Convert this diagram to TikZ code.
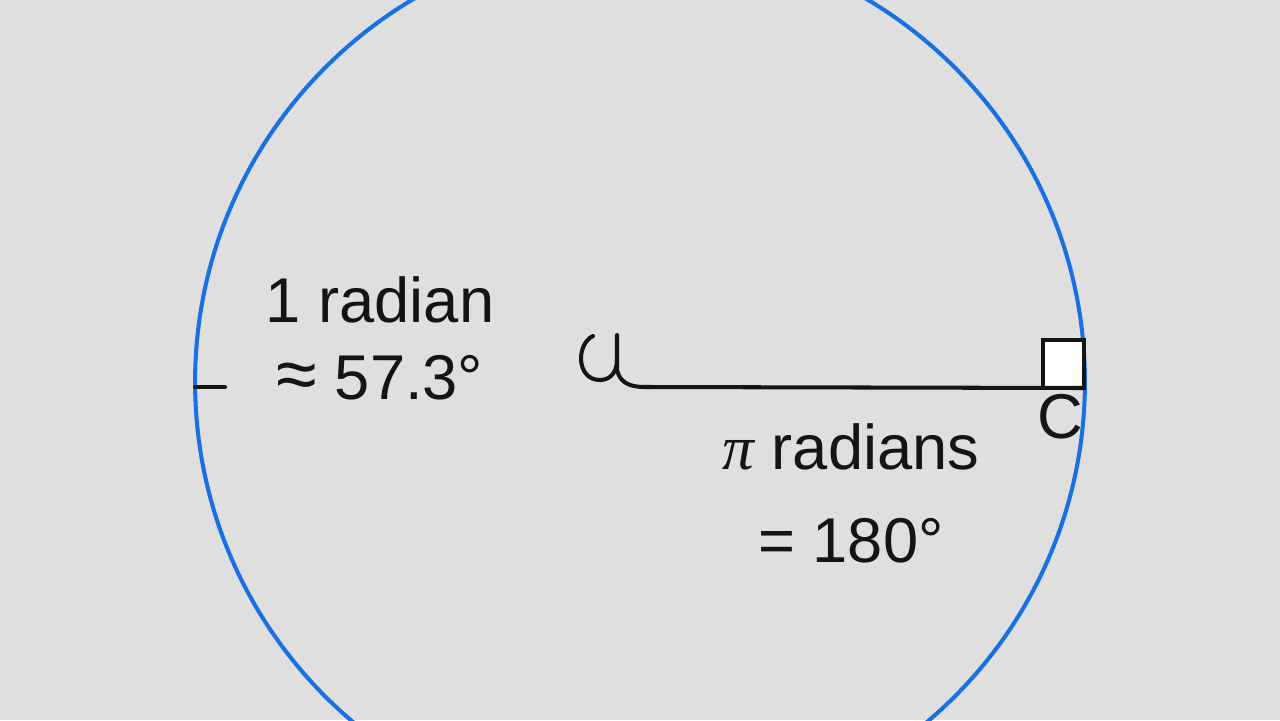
\documentclass[tikz,border=0pt]{standalone}
\usepackage{fontspec}
\setmainfont{Liberation Sans}
\newfontfamily\pifont{Liberation Serif}
\usetikzlibrary{positioning}
\definecolor{paper}{RGB}{223,223,223}
\definecolor{rimblue}{RGB}{24,112,228}
\definecolor{ink}{RGB}{20,20,20}
\tikzset{
  rim/.style={draw=rimblue, line width=2.3pt, circle, inner sep=0pt, outer sep=0pt},
  stroke/.style={draw=ink, line width=2.3pt, line cap=round},
  lbl/.style={text=ink, font=\fontsize{36}{44}\selectfont, inner sep=0pt, anchor=base},
  corner/.style={draw=ink, fill=white, line width=2.2pt, minimum width=0.82cm, minimum height=0.96cm, inner sep=0pt, outer sep=0pt}
}
\begin{document}
\begin{tikzpicture}[x=0.02cm, y=-0.02cm]
  \fill[paper] (0,0) rectangle (1280,720);
  \useasboundingbox (0,0) rectangle (1280,720);
  \clip (0,0) rectangle (1280,720);

  \node[rim, minimum size=17.8cm] (O) at (640,382) {};
  \node[corner, anchor=south east] (sq) at (1084,388) {};
  \coordinate (hook) at (645,387);

  \draw[stroke] (593,336) .. controls (576,344) and (576,380) .. (600,380) .. controls (612,380) and (617,370) .. (617,360);
  \draw[stroke] (617,335) -- (617,370) .. controls (620,383) and (630,387) .. (hook);
  \draw[stroke] (hook) -- (sq.south east);
  \draw[stroke] (O.west |- hook) -- ++(30,0);

  \node[lbl] (rad1) at (380,322) {1 radian};
  \node[lbl, below=1.56cm of rad1.base, anchor=base] (rad2) {{\fontsize{42}{44}\selectfont ≈} 57.3°};
  \node[lbl] (pi1) at (851,469) {{\pifont\itshape π} radians};
  \node[lbl, below=1.88cm of pi1.base, anchor=base] (pi2) {= 180°};
  \node[lbl] (cpt) at (1060,438) {C};
\end{tikzpicture}
\end{document}
